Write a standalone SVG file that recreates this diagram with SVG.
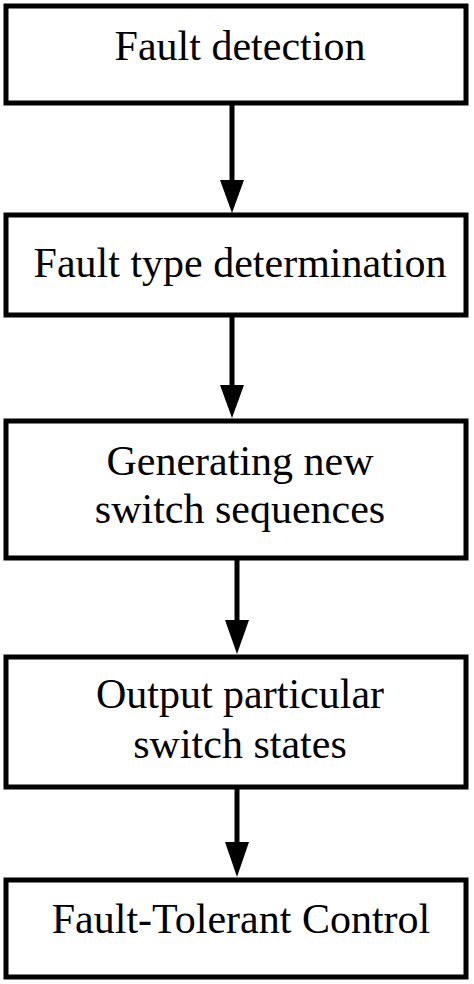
<svg xmlns="http://www.w3.org/2000/svg" width="474" height="984" viewBox="0 0 474 984">
<style>
.box{fill:#fff;stroke:#000;stroke-width:5}
.t{font-family:"Liberation Serif","Times New Roman",serif;font-size:42px;fill:#000;text-anchor:middle}
.c{stroke:#000;stroke-width:5;fill:none}
.h{fill:#000}
</style>
<rect width="474" height="984" fill="#fff"/>
<g id="n1"><rect class="box" x="6" y="6" width="460" height="97"/><text class="t" x="240" y="60">Fault detection</text></g>
<g id="n2"><rect class="box" x="6" y="215" width="460" height="100"/><text class="t" x="240" y="277">Fault type determination</text></g>
<g id="n3"><rect class="box" x="6" y="421" width="460" height="137"/><text class="t" x="240" y="475">Generating new</text><text class="t" x="240" y="523">switch sequences</text></g>
<g id="n4"><rect class="box" x="6" y="657" width="460" height="130"/><text class="t" x="240" y="708">Output particular</text><text class="t" x="240" y="758">switch states</text></g>
<g id="n5"><rect class="box" x="6" y="880" width="460" height="97"/><text class="t" x="241" y="933">Fault-Tolerant Control</text></g>
<g id="connectors">
<line class="c" x1="232" y1="103" x2="232" y2="182"/><polygon class="h" points="220,180 244,180 232,213"/>
<line class="c" x1="232" y1="315" x2="232" y2="387"/><polygon class="h" points="220,385 244,385 232,418"/>
<line class="c" x1="237" y1="558" x2="237" y2="622"/><polygon class="h" points="225,620 249,620 237,654"/>
<line class="c" x1="237" y1="787" x2="237" y2="844"/><polygon class="h" points="225,842 249,842 237,877"/>
</g>
</svg>
